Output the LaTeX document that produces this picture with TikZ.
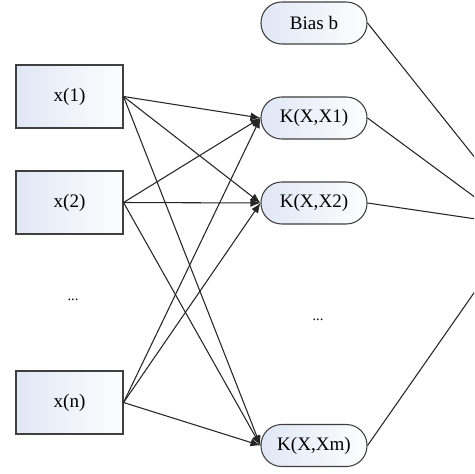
\documentclass[tikz,border=0pt]{standalone}
\usepackage{fontspec}
\setmainfont{Liberation Serif}
\usetikzlibrary{arrows.meta}
\definecolor{fillblue}{RGB}{224,231,245}
\definecolor{edgegray}{RGB}{64,64,64}
\tikzset{
  inbox/.style={draw=edgegray, line width=0.8pt, left color=fillblue, right color=white!94!fillblue,
    minimum width=80.25pt, minimum height=47.25pt, inner sep=0pt, font=\fontsize{14.3}{17}\selectfont},
  kbox/.style={draw=edgegray, line width=0.8pt, rounded corners=15.5pt, left color=fillblue, right color=white!94!fillblue,
    minimum width=79.5pt, minimum height=31.5pt, inner sep=0pt, font=\fontsize{14.3}{17}\selectfont},
  wire/.style={draw=black!85, line width=0.8pt},
  feed/.style={wire, -{Latex[length=7.5pt,width=6pt]}}
}
\begin{document}
\begin{tikzpicture}[x=0.75pt,y=0.75pt,yscale=-1,xscale=1]
\useasboundingbox (0,0) rectangle (474,474);
\clip (0,0) rectangle (474,474);

%Shape: inputs
\node[inbox] (x1) at (69.5,96.5) {x(1)};
\node[inbox] (x2) at (69.5,202.5) {x(2)};
\node[inbox] (xn) at (69.5,402.5) {x(n)};
\node[font=\fontsize{11}{13}\selectfont] (dotsl) at (73,300) {...};

%Shape: kernels
\node[kbox] (bias) at (314,23) {Bias b};
\node[kbox] (k1) at (314,118) {K(X,X1)};
\node[kbox] (k2) at (314,203) {K(X,X2)};
\node[kbox] (km) at (314,445.5) {K(X,Xm)};
\node[font=\fontsize{11}{13}\selectfont] (dotsr) at (318,320) {...};

%Shape: outputs at the right edge
\coordinate (o1) at (476,159);
\coordinate (o2) at (476,198);
\coordinate (o3) at (476,219);
\coordinate (o4) at (476,290);

%Straight Lines: inputs to kernels
\foreach \s in {x1,x2,xn}{
  \foreach \t in {k1,k2,km}{
    \draw[feed] (\s.east) -- (\t.west);
  }
}

%Straight Lines: kernels to output
\draw[wire] (bias.east) -- (o1);
\draw[wire] (k1.east) -- (o2);
\draw[wire] (k2.east) -- (o3);
\draw[wire] (km.east) -- (o4);

\end{tikzpicture}
\end{document}
